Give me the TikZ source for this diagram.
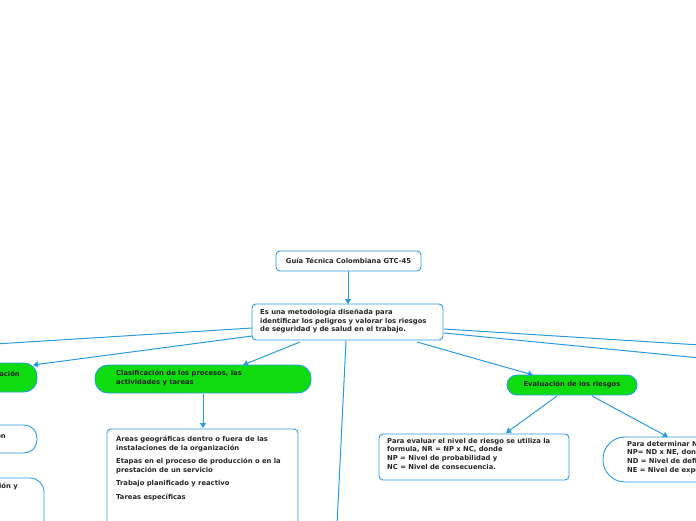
\documentclass[tikz,border=0pt]{standalone}
\usepackage{fontspec}
\setmainfont{DejaVu Sans}
\usetikzlibrary{arrows.meta}
\definecolor{lb}{HTML}{2A9BE0}
\definecolor{gr}{HTML}{0FDC0F}
\tikzset{
  box/.style={draw=lb,line width=0.9pt,rounded corners=4pt,fill=white},
  gbox/.style={draw=lb,line width=0.9pt,rounded corners=13pt,fill=gr},
  txt/.style={font=\fontsize{6.8}{8.6}\selectfont\bfseries,align=left,anchor=north west,inner sep=0pt,text=black!85},
  con/.style={draw=lb,line width=1pt},
  arr/.style={con,-{Triangle[length=5pt,width=6pt]}},
}
\begin{document}
\begin{tikzpicture}[x=1pt,y=-1pt]
\useasboundingbox (0,0) rectangle (696,520);
\clip (0,0) rectangle (696,520);
% boxes
\draw[box] (276,251) rectangle (421,271);
\node[txt,anchor=center] (t) at (348.5,261) {Guía Técnica Colombiana GTC-45};
\coordinate (tb) at (348,271);
\draw[box] (252,304) rectangle (443,340);
\node[txt] (m) at (260,309) {Es una metodología diseñada para\\identificar los peligros y valorar los riesgos\\de seguridad y de salud en el trabajo.};
\coordinate (mt) at (348,304);
\draw[arr] (tb) -- (mt);
% left green
\draw[gbox] (-40,363) rectangle (37,392);
\node[txt,anchor=east] (lg) at (20,374) {Identificación};
\draw[box,rounded corners=13pt] (-40,425) rectangle (37,453);
\node[txt,anchor=east] (lb1) at (6,436) {Descripción};
\draw[box,rounded corners=14pt] (-40,478) rectangle (44,560);
\node[txt,anchor=east] (lb2) at (18,487) {Valoración y};
% clasif
\draw[gbox] (95,365) rectangle (311,393);
\node[txt] (c) at (116,370) {Clasificación de los procesos, las\\actividades y tareas};
\draw[box] (107,429) rectangle (298,560);
\node[txt] (a) at (116,435) {Áreas geográficas dentro o fuera de las\\instalaciones de la organización\\[5pt]Etapas en el proceso de producción o en la\\prestación de un servicio\\[5pt]Trabajo planificado y reactivo\\[5pt]Tareas específicas};
% eval
\draw[gbox,rounded corners=10pt] (507,375) rectangle (637,395);
\node[txt,anchor=center] (e) at (572,385) {Evaluación de los riesgos};
\draw[box] (379,434) rectangle (569,480);
\node[txt] (f) at (387,438) {Para evaluar el nivel de riesgo se utiliza la\\formula, NR = NP x NC, donde\\NP = Nivel de probabilidad y\\NC = Nivel de consecuencia.};
\draw[box,rounded corners=22pt] (603,437) rectangle (760,482);
\node[txt] (g) at (627,441) {Para determinar NP se utiliza la\\NP= ND x NE, donde\\ND = Nivel de deficiencia y\\NE = Nivel de exposición.};
% connectors
\draw[con] (252,328) -- (-5,344);
\draw[arr] (252,336) -- (33,365);
\draw[arr] (300,342) -- (243,365);
\draw[con] (346,341) -- (337,525);
\draw[arr] (417,342) -- (533,375);
\draw[con] (444,329) -- (700,345);
\draw[con] (444,333) -- (700,358);
\draw[arr] (203,394) -- (203,428);
\draw[arr] (557,396) -- (506,433);
\draw[arr] (592,396) -- (668,437);
\end{tikzpicture}
\end{document}
